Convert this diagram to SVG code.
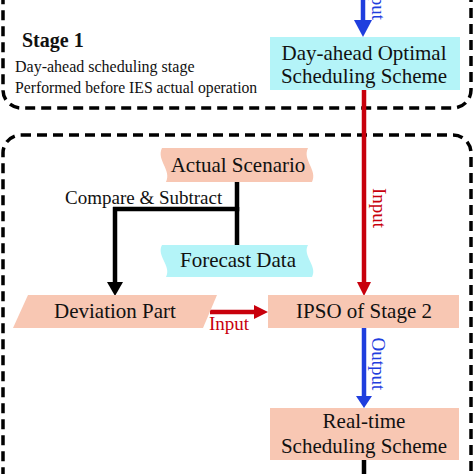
<svg xmlns="http://www.w3.org/2000/svg" width="474" height="474" viewBox="0 0 474 474">
<style>
.stage{fill:none;stroke:#000;stroke-width:3.5;stroke-dasharray:10 6}
.t{font-family:"Liberation Serif","Times New Roman",serif;fill:#111}
.box{font-size:21px;text-anchor:middle}
.cyan{fill:#b4f4f8}
.salmon{fill:#f8c7b3}
.lbl{font-size:19px}
.red{fill:#c8000c}
.blue{fill:#1f3ede}
.k{stroke:#000;stroke-width:4.5;fill:none}
.r{stroke:#c8000c;stroke-width:4.5;fill:none}
.b{stroke:#1f3ede;stroke-width:4.5;fill:none}
</style>
<rect width="474" height="474" fill="#fff"/>
<g id="stage1">
<rect class="stage" x="3" y="-30" width="468" height="138" rx="18"/>
<text class="t" x="22" y="47" font-size="20" font-weight="bold">Stage 1</text>
<text class="t" x="15" y="72" font-size="16">Day-ahead scheduling stage</text>
<text class="t" x="15" y="93" font-size="15.7">Performed before IES actual operation</text>
</g>
<g id="stage2">
<rect class="stage" x="3" y="135" width="468" height="380" rx="18"/>
</g>
<g id="connectors">
<line class="b" x1="363" y1="0" x2="363" y2="22"/>
<polygon class="blue" points="354,20 372,20 363,37"/>
<text class="t lbl blue" transform="translate(372,20) rotate(90)" text-anchor="end">Output</text>
<line class="r" x1="364" y1="90" x2="364" y2="284"/>
<polygon class="red" points="357,282 371,282 364,296"/>
<text class="t lbl red" transform="translate(373,208) rotate(90)" text-anchor="middle">Input</text>
<polyline class="k" points="237,182 237,209 113,209"/>
<line class="k" x1="237" y1="207" x2="237" y2="245"/>
<line class="k" x1="115" y1="207" x2="115" y2="284"/>
<polygon fill="#000" points="107,282 123,282 115,296"/>
<line class="r" x1="210" y1="312" x2="256" y2="312"/>
<polygon class="red" points="254,305 254,319 268,312"/>
<text class="t lbl red" x="209" y="330">Input</text>
<line class="b" x1="364" y1="328" x2="364" y2="398"/>
<polygon class="blue" points="356,396 372,396 364,408"/>
<text class="t lbl blue" transform="translate(372,364) rotate(90)" text-anchor="middle">Output</text>
<line class="k" x1="364" y1="460" x2="364" y2="474"/>
</g>
<g id="dayahead">
<rect class="cyan" x="270" y="37" width="190" height="53"/>
<text class="t box" x="364" y="60">Day-ahead Optimal</text>
<text class="t box" x="364" y="83">Scheduling Scheme</text>
</g>
<g id="actual">
<path class="salmon" d="M162,148 H308 C302,160 318,170 312,182 H166 C172,170 156,160 162,148 Z"/>
<text class="t box" x="238" y="172">Actual Scenario</text>
</g>
<g id="compare-label">
<text class="t" x="65" y="204" font-size="19">Compare &amp; Subtract</text>
</g>
<g id="forecast">
<path class="cyan" d="M162,245 H308 C302,256 318,266 312,277 H166 C172,266 156,256 162,245 Z"/>
<text class="t box" x="238" y="267">Forecast Data</text>
</g>
<g id="deviation">
<polygon class="salmon" points="28,295 217,295 203,328 13,328"/>
<text class="t box" x="115" y="318">Deviation Part</text>
</g>
<g id="ipso">
<rect class="salmon" x="268" y="295" width="191" height="33"/>
<text class="t box" x="364" y="318">IPSO of Stage 2</text>
</g>
<g id="realtime">
<rect class="salmon" x="270" y="408" width="189" height="52"/>
<text class="t box" x="364" y="428">Real-time</text>
<text class="t box" x="364" y="453">Scheduling Scheme</text>
</g>
</svg>
